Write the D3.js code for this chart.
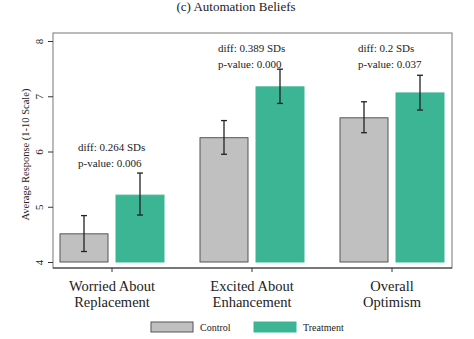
<!DOCTYPE html>
<html>
<head>
<meta charset="utf-8">
<script src="https://cdn.jsdelivr.net/npm/d3@7"></script>
<style>
  body { margin: 0; background: #fff; }
  text { font-family: "Liberation Serif", "DejaVu Serif", serif; fill: #222; }
</style>
</head>
<body>
<div id="chart"></div>
<script>
const categories = [["Worried About", "Replacement"], ["Excited About", "Enhancement"], ["Overall", "Optimism"]];
const groups = ["Control", "Treatment"];
const controlMean = [4.51, 6.25, 6.61];
const controlLow = [4.19, 5.95, 6.34];
const controlHigh = [4.84, 6.56, 6.90];
const treatMean = [5.21, 7.17, 7.06];
const treatLow = [4.85, 6.87, 6.75];
const treatHigh = [5.61, 7.49, 7.38];
const diffLabels = ["diff: 0.264 SDs", "diff: 0.389 SDs", "diff: 0.2 SDs"];
const pLabels = ["p-value: 0.006", "p-value: 0.000", "p-value: 0.037"];
const labelY = [6.08, 7.87, 7.87];
const yTicks = [4, 5, 6, 7, 8];

const width = 474, height = 339;
const frame = { left: 53, right: 452, top: 33, bottom: 268 };
const colors = { Control: "#c0c0c0", Treatment: "#3bb593" };

const svg = d3.select("#chart").append("svg")
    .attr("width", width)
    .attr("height", height);

const y = d3.scaleLinear().domain([4, 8]).range([262, 41]);
const x0 = d3.scaleBand().domain(d3.range(categories.length)).range([42, 462]);
const x1 = d3.scaleBand().domain(groups).range([18, 122]).paddingInner(8 / 56);

// title
svg.append("text")
    .attr("x", 236).attr("y", 11)
    .attr("text-anchor", "middle")
    .attr("font-size", "13px")
    .text("(c) Automation Beliefs");

// plot frame
svg.append("rect")
    .attr("x", frame.left).attr("y", frame.top)
    .attr("width", frame.right - frame.left)
    .attr("height", frame.bottom - frame.top)
    .attr("fill", "none")
    .attr("stroke", "#777")
    .attr("stroke-width", 1);

// y axis
const yAxis = svg.append("g").attr("transform", `translate(${frame.left},0)`)
    .call(d3.axisLeft(y).tickValues(yTicks).tickSize(5).tickPadding(0).tickFormat(d3.format("d")));
yAxis.select(".domain").remove();
yAxis.selectAll(".tick line").attr("stroke", "#333");
yAxis.selectAll(".tick text")
    .attr("font-size", "11px")
    .attr("font-family", "Liberation Serif")
    .attr("fill", "#222")
    .attr("transform", "rotate(-90)")
    .attr("x", 0)
    .attr("y", -10)
    .attr("dy", "0")
    .attr("text-anchor", "middle");

svg.append("text")
    .attr("transform", `translate(29,${(frame.top + frame.bottom) / 2 + 4}) rotate(-90)`)
    .attr("text-anchor", "middle")
    .attr("font-size", "10.5px")
    .text("Average Response (1-10 Scale)");

// x axis
const xAxis = svg.append("g").attr("transform", `translate(0,${frame.bottom})`)
    .call(d3.axisBottom(x0).tickSize(4).tickFormat(""));
xAxis.select(".domain").attr("stroke", "#333").attr("d", `M${frame.left},0H${frame.right}`);
xAxis.selectAll(".tick line").attr("stroke", "#333");

categories.forEach((lines, i) => {
    const t = svg.append("text")
        .attr("x", x0(i) + x0.bandwidth() / 2)
        .attr("y", 291)
        .attr("text-anchor", "middle")
        .attr("font-size", "14.5px");
    lines.forEach((l, j) => t.append("tspan")
        .attr("x", x0(i) + x0.bandwidth() / 2)
        .attr("dy", j === 0 ? 0 : 16)
        .text(l));
});

// bars
const rows = [];
categories.forEach((c, i) => {
    rows.push({ i, g: "Control", mean: controlMean[i], lo: controlLow[i], hi: controlHigh[i] });
    rows.push({ i, g: "Treatment", mean: treatMean[i], lo: treatLow[i], hi: treatHigh[i] });
});

svg.selectAll(".bar")
    .data(rows)
    .enter()
    .append("rect")
    .attr("class", "bar")
    .attr("x", d => x0(d.i) + x1(d.g))
    .attr("y", d => y(d.mean))
    .attr("width", x1.bandwidth())
    .attr("height", d => y(4) - y(d.mean))
    .attr("fill", d => colors[d.g])
    .attr("stroke", d => d.g === "Control" ? "#555" : colors[d.g])
    .attr("stroke-width", 1);

// error bars
const cx = d => x0(d.i) + x1(d.g) + x1.bandwidth() / 2;
const err = svg.selectAll(".err").data(rows).enter().append("g").attr("class", "err")
    .attr("stroke", "#222").attr("stroke-width", 1.3);
err.append("line")
    .attr("x1", cx).attr("x2", cx)
    .attr("y1", d => y(d.lo)).attr("y2", d => y(d.hi));
err.append("line")
    .attr("x1", d => cx(d) - 3).attr("x2", d => cx(d) + 3)
    .attr("y1", d => y(d.lo)).attr("y2", d => y(d.lo));
err.append("line")
    .attr("x1", d => cx(d) - 3).attr("x2", d => cx(d) + 3)
    .attr("y1", d => y(d.hi)).attr("y2", d => y(d.hi));

// annotations
categories.forEach((c, i) => {
    const lx = x0(i) + x0.bandwidth() / 2 - 34;
    svg.append("text")
        .attr("x", lx).attr("y", y(labelY[i]) + 4)
        .attr("font-size", "11px")
        .text(diffLabels[i]);
    svg.append("text")
        .attr("x", lx).attr("y", y(labelY[i]) + 20)
        .attr("font-size", "11px")
        .text(pLabels[i]);
});

// legend
const legend = svg.append("g");
const legX = [151, 254];
groups.forEach((g, k) => {
    legend.append("rect")
        .attr("x", legX[k]).attr("y", 322)
        .attr("width", 42).attr("height", 10)
        .attr("fill", colors[g])
        .attr("stroke", g === "Control" ? "#555" : colors[g]);
    legend.append("text")
        .attr("x", legX[k] + 49).attr("y", 331)
        .attr("font-size", "10px")
        .text(g);
});
</script>
</body>
</html>
